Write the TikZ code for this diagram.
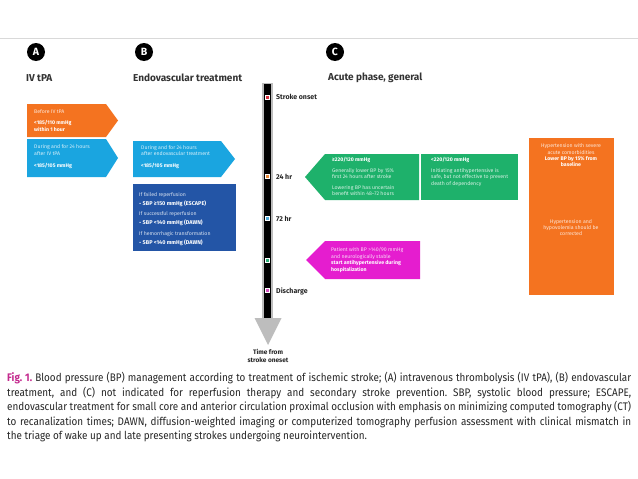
\documentclass[tikz,border=0pt]{standalone}
\usepackage{fontspec}
\setmainfont{Fira Sans}
\newfontfamily\capfont[FakeStretch=0.9]{Fira Sans}
\frenchspacing
\definecolor{cOrange}{HTML}{F47320}
\definecolor{cCyan}{HTML}{1AA5E0}
\definecolor{cNavy}{HTML}{2355A6}
\definecolor{cGreen}{HTML}{1EB16B}
\definecolor{cMag}{HTML}{E51DCF}
\definecolor{cFig}{HTML}{C42A8E}
\definecolor{cBar}{HTML}{BDBDBD}
\definecolor{mRed}{HTML}{D6303E}
\definecolor{mOrange}{HTML}{E88A3C}
\definecolor{mBlue}{HTML}{4BA8D6}
\definecolor{mGreen}{HTML}{2BAE76}
\definecolor{mMag}{HTML}{D64FC0}
\tikzset{
  txt/.style={font=\fontsize{5.2}{6.3}\selectfont, text=white, text opacity=0.82, inner sep=0, anchor=west, align=left},
  txtb/.style={font=\fontsize{5.2}{6.3}\selectfont\bfseries, text=white, inner sep=0, anchor=west, align=left},
  txtc/.style={txt, anchor=center, align=center},
  txtbc/.style={txtb, anchor=center, align=center},
  circ/.style={circle, fill=black, text=white, font=\fontsize{10.5}{10.5}\selectfont\bfseries, minimum size=18pt, inner sep=0},
  head/.style={font=\fontsize{10}{12}\selectfont\bfseries, text=black!80, inner sep=0, anchor=west},
  tlab/.style={font=\fontsize{7}{8}\selectfont\bfseries, text=black!85, inner sep=0, anchor=west},
  marker/.style={rectangle, minimum size=4pt, inner sep=0, draw=white, line width=0.5pt}
}
\begin{document}
\begin{tikzpicture}[x=1pt,y=-1pt]
\fill[white] (0,0) rectangle (638,479);
\useasboundingbox (0,0) rectangle (638,479);
% top rule
\draw[black!15, line width=1pt] (0,38.5) -- (638,38.5);
% letters and headings
\node[circ] (cA) at (36,52) {A};
\node[circ] (cB) at (144,52) {B};
\node[circ] (cC) at (335,52) {C};
\node[head] (hA) at (26,78) {IV tPA};
\node[head] (hB) at (133,78) {Endovascular treatment};
\node[head] (hC) at (328,78) {Acute phase, general};
% A boxes
\fill[cOrange] (27,104) -- (106,104) -- (118,120.5) -- (106,137) -- (27,137) -- cycle;
\fill[cCyan] (27,139) -- (106,139) -- (118,158) -- (106,177) -- (27,177) -- cycle;
\node[txt] (a1) at (34,112) {Before IV tPA};
\node[txtb] (a2) at (34,126) {<185/110 mmHg\\within 1 hour};
\node[txt] (a3) at (34,150) {During and for 24 hours\\after IV tPA};
\node[txtb] (a4) at (34,166) {<185/105 mmHg};
% B boxes
\fill[cCyan] (133,141) -- (221,141) -- (235,159) -- (221,177) -- (133,177) -- cycle;
\node[txt] (b1) at (141,150.5) {During and for 24 hours\\after endovascular treatment};
\node[txtb] (b2) at (141,166) {<185/105 mmHg};
\fill[cNavy] (133,184) rectangle (236,251);
\begin{scope}[every node/.append style={font=\fontsize{5.5}{6.5}\selectfont}]
\node[txt] (b3) at (139,195) {If failed reperfusion};
\node[txtb, font=\fontsize{5.5}{6.5}\selectfont\bfseries] (b4) at (139,203.5) {- SBP ≥150 mmHg (ESCAPE)};
\node[txt] (b5) at (139,214.5) {If successful reperfusion};
\node[txtb, font=\fontsize{5.5}{6.5}\selectfont\bfseries] (b6) at (139,223) {- SBP <140 mmHg (DAWN)};
\node[txt] (b7) at (139,234) {If hemorrhagic transformation};
\node[txtb, font=\fontsize{5.5}{6.5}\selectfont\bfseries] (b8) at (139,242.5) {- SBP <140 mmHg (DAWN)};
\end{scope}
% timeline
\fill[cBar] (261.5,83) rectangle (273,318);
\fill[black] (264,84) rectangle (270.5,318);
\fill[cBar] (254.5,318) -- (281.5,318) -- (268,345) -- cycle;
\node[marker, fill=mRed] (m1) at (267.2,97) {};
\node[marker, fill=mOrange] (m2) at (267.2,176.5) {};
\node[marker, fill=mBlue] (m3) at (267.2,218) {};
\node[marker, fill=mGreen] (m4) at (267.2,260) {};
\node[marker, fill=mMag] (m5) at (267.2,290) {};
\node[tlab] (l1) at (276,97) {Stroke onset};
\node[tlab] (l2) at (276,177) {24 hr};
\node[tlab] (l3) at (276,219) {72 hr};
\node[tlab] (l5) at (276,291) {Discharge};
\node[font=\fontsize{6.5}{7.2}\selectfont\bfseries, text=black!85, align=center, inner sep=0, anchor=north] (tf) at (268,349.5) {Time from\\stroke oneset};
% C boxes
\fill[cGreen] (305,177) -- (325,154) -- (419,154) -- (419,200) -- (325,200) -- cycle;
\fill[cGreen] (421,154) rectangle (518,200);
\node[txtb] (c1) at (332,160) {≥220/120 mmHg};
\node[txt] (c2) at (332,173.5) {Generally lower BP by 15\%\\first 24 hours after stroke};
\node[txt] (c3) at (332,190.5) {Lowering BP has uncertain\\benefit within 48–72 hours};
\node[txtb] (c4) at (431,160) {<220/120 mmHg};
\node[txt] (c5) at (431,177.5) {Initiating antihypertensive is\\safe, but not effective to prevent\\death of dependency};
\fill[cMag] (306,260) -- (325,241) -- (420,241) -- (420,279) -- (325,279) -- cycle;
\node[txt] (c6) at (331,253.5) {Patient with BP >140/90 mmHg\\and neurologically stable};
\node[txtb] (c7) at (331,266.5) {start antihypertensive during\\hospitalization};
\fill[cOrange] (529,138) rectangle (614,295);
\node[txtc] (c8) at (571,149) {Hypertension with severe\\acute comorbidities};
\node[txtbc] (c9) at (571,161.5) {Lower BP by 15\% from\\baseline};
\node[txtc] (c10) at (571,227.5) {Hypertension and\\hypovolemia should be\\corrected};
% caption
\node[anchor=north west, text width=624pt, align=justify, inner sep=0, text=black!85,
  font=\capfont\fontsize{11}{14.5}\selectfont] (cap) at (7,372.5)
{{\color{cFig}\bfseries Fig. 1.} Blood pressure (BP) management according to treatment of ischemic stroke; (A) intravenous thrombolysis (IV tPA), (B) endovascular\linebreak
treatment, and (C) not indicated for reperfusion therapy and secondary stroke prevention. SBP, systolic blood pressure; ESCAPE,\linebreak
endovascular treatment for small core and anterior circulation proximal occlusion with emphasis on minimizing computed tomography (CT)\linebreak
to recanalization times; DAWN, diffusion-weighted imaging or computerized tomography perfusion assessment with clinical mismatch in\linebreak
the triage of wake up and late presenting strokes undergoing neurointervention.};
\end{tikzpicture}
\end{document}
